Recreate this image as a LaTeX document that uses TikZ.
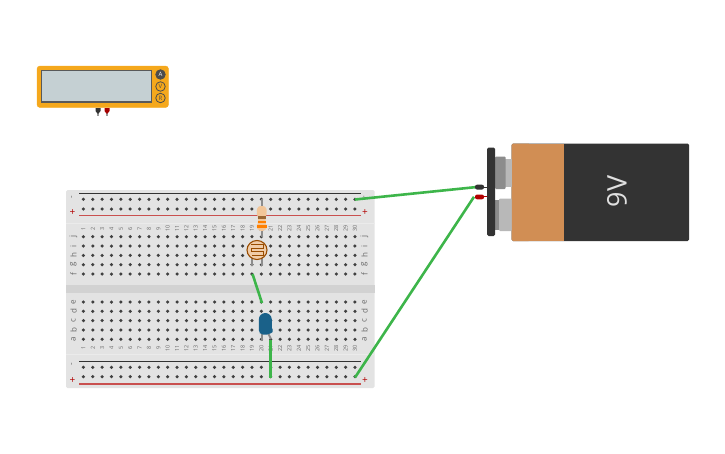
\documentclass[tikz,border=0pt]{standalone}
\usepackage{fontspec}
\setmainfont{Open Sans}
\definecolor{boardgrey}{HTML}{E3E3E3}
\definecolor{groovegrey}{HTML}{D2D2D2}
\definecolor{labelgrey}{HTML}{666666}
\definecolor{wiregreen}{HTML}{3DB54A}
\definecolor{meterorange}{HTML}{F5A81C}
\definecolor{meterscreen}{HTML}{C5D0D3}
\definecolor{batteryorange}{HTML}{D18E54}
\definecolor{batterydark}{HTML}{333333}
\definecolor{railred}{HTML}{C9504F}
\definecolor{ledblue}{HTML}{1A6189}
\tikzset{
	hole/.style={circle, fill=black!75, inner sep=0pt, minimum size=3.5pt},
	collabel/.style={font=\fontsize{5.5}{5.5}\selectfont, text=labelgrey, rotate=90, inner sep=0pt},
	rowlabel/.style={font=\fontsize{8}{8}\selectfont, text=labelgrey, rotate=90, inner sep=0pt},
	wire/.style={draw=wiregreen, line width=2.6pt},
	pinleg/.style={draw=black!45, line width=1.8pt},
	meterbutton/.style={circle, draw=black!70, fill=meterorange, line width=0.8pt, minimum size=9.5pt, inner sep=0pt, font=\fontsize{6}{6}\selectfont, text=black!70},
}
\begin{document}
\begin{tikzpicture}[x=1pt, y=-1pt]
	\useasboundingbox (0, 0) rectangle (725, 453);
	% multimeter
	\fill[color=black!40] (97, 112) rectangle (99, 116);
	\fill[color=black!40] (106, 112) rectangle (108, 116);
	\fill[color=black!80] (95.5, 108) -- (100.5, 108) -- (100.5, 111) -- (98.5, 113.5) -- (97.5, 113.5) -- (95.5, 111) -- cycle;
	\fill[color=red!65!black] (104.5, 108) -- (109.5, 108) -- (109.5, 111) -- (107.5, 113.5) -- (106.5, 113.5) -- (104.5, 111) -- cycle;
	\filldraw[fill=meterorange, draw=meterorange, rounded corners=3pt] (37, 66) rectangle (168.5, 107.5);
	\filldraw[fill=meterscreen, draw=black!65, line width=1.8pt] (41.5, 70.5) rectangle (151.5, 102);
	\node[meterbutton, fill=black!70, text=white] (btnA) at (160.5, 74.5) {A};
	\node[meterbutton] (btnV) at (160.5, 86.5) {V};
	\node[meterbutton] (btnR) at (160.5, 98) {R};
	% breadboard
	\fill[color=boardgrey, rounded corners=1.5pt] (66, 190) rectangle (374.5, 388);
	\fill[color=groovegrey] (66, 285) rectangle (374.5, 292.5);
	\draw[color=white!92!black, line width=0.6pt] (66, 223.5) -- (374.5, 223.5);
	\draw[color=white!92!black, line width=0.6pt] (66, 354) -- (374.5, 354);
	\draw[color=black!80, line width=1pt] (79, 193.5) -- (361, 193.5);
	\draw[color=railred, line width=1.4pt] (79, 215.7) -- (361, 215.7);
	\draw[color=black!80, line width=1pt] (79, 361.5) -- (361, 361.5);
	\draw[color=railred, line width=1.4pt] (79, 384) -- (361, 384);
	\foreach \c in {1,...,30} {
		\pgfmathsetmacro{\xpos}{83.4 + (\c - 1) * 9.365}
		\foreach \y in {199.3, 209, 236.7, 246, 255.4, 264.7, 274, 302, 311.3, 320.6, 330, 339.3, 367.3, 376.7}
			\node[hole] at (\xpos, \y) {};
		\node[collabel] at (\xpos, 228.5) {\c};
		\node[collabel] at (\xpos, 348) {\c};
	}
	\foreach \lab/\y in {j/236.7, i/246, h/255.4, g/264.7, f/274, e/302, d/311.3, c/320.6, b/330, a/339.3} {
		\node[rowlabel] at (73.5, \y) {\lab};
		\node[rowlabel] at (364.5, \y) {\lab};
	}
	\foreach \x in {72.5, 365} {
		\node[font=\fontsize{10}{10}\selectfont, text=red!70!black, inner sep=0pt] at (\x, 213) {+};
		\node[font=\fontsize{10}{10}\selectfont, text=red!70!black, inner sep=0pt] at (\x, 380.5) {+};
		\node[rowlabel, text=black!60] at (\x, 197) {-};
		\node[rowlabel, text=black!60] at (\x, 364) {-};
	}
	% photoresistor
	\draw[pinleg] (252.3, 256) -- (252.3, 266);
	\draw[pinleg] (261.7, 256) -- (261.7, 266);
	\filldraw[fill=orange!40!brown!40!white, draw=orange!60!black, line width=1.1pt] (257, 250) ellipse (10 and 9.5);
	\draw[color=orange!60!black, line width=1pt] (251, 244.5) -- (263, 244.5) -- (263, 248) -- (251, 248) -- (251, 251.5) -- (263, 251.5) -- (263, 255) -- (252, 255);
	% resistor
	\draw[pinleg] (261.7, 199.3) -- (261.7, 237);
	\filldraw[fill=orange!55!brown!45!white, draw=none, rounded corners=3pt] (257.5, 206) -- (266, 206) -- (267, 213) -- (265.5, 216) -- (265.5, 224) -- (267, 227) -- (265, 231) -- (258.5, 231) -- (256.5, 227) -- (258, 224) -- (258, 216) -- (256.5, 213) -- cycle;
	\fill[color=brown!80!black] (258, 216) rectangle (265.5, 218.5);
	\fill[color=orange] (258, 220.5) rectangle (265.5, 222.5);
	\fill[color=orange] (257, 225) rectangle (266.5, 228);
	% LED
	\draw[pinleg] (261.7, 333) -- (261.7, 341);
	\draw[pinleg] (268, 333) -- (271, 339);
	\filldraw[fill=ledblue, draw=none] (258.8, 332) -- (258.8, 319.5) arc (180:360:6.5) -- (271.8, 328.5) -- (272.6, 328.5) -- (272.6, 332) [rounded corners=2pt] -- (269, 334.5) -- (261, 334.5) -- cycle;
	% battery
	\filldraw[fill=batterydark, draw=none, rounded corners=1.5pt] (511.5, 143.5) rectangle (689, 241);
	\fill[color=batteryorange, rounded corners=1.5pt] (511.5, 143.5) rectangle (530, 241);
	\fill[color=batteryorange] (520, 143.5) rectangle (564, 241);
	\node[font=\fontsize{27}{27}\selectfont, text=black!12, rotate=90, inner sep=0pt] (batterylabel) at (617, 191.5) {9V};
	\fill[color=black!28] (505, 159) rectangle (511.5, 187);
	\fill[color=black!45, rounded corners=1pt] (495, 156.5) rectangle (505.5, 189);
	\fill[color=black!45] (495, 200) rectangle (500, 230);
	\fill[color=black!28, rounded corners=1pt] (499, 198.5) rectangle (511.5, 231);
	\fill[color=batterydark, rounded corners=1.5pt] (487, 147.5) rectangle (495, 236);
	% battery leads
	\draw[color=batterydark, line width=1pt] (479, 187) -- (487, 187);
	\draw[color=red!70!black, line width=1pt] (479, 196.8) -- (487, 196.8);
	% wires
	\coordinate (railneg) at (355, 199.5);
	\coordinate (railpos) at (355, 377.5);
	\coordinate (ldrhole) at (252.5, 274);
	\coordinate (topnode) at (262, 303);
	\coordinate (ledhole) at (270.7, 340);
	\coordinate (railled) at (270.7, 378);
	\coordinate (leadneg) at (477, 187);
	\coordinate (leadpos) at (474, 196.8);
	\draw[wire] (railneg) -- (leadneg);
	\draw[wire] (railpos) -- (leadpos);
	\draw[wire] (ldrhole) -- (topnode);
	\draw[wire] (ledhole) -- (railled);
	\fill[color=batterydark, rounded corners=2pt] (475, 184.7) rectangle (484, 189.5);
	\fill[color=red!70!black, rounded corners=2pt] (475, 194.6) rectangle (484, 199.3);
\end{tikzpicture}
\end{document}
